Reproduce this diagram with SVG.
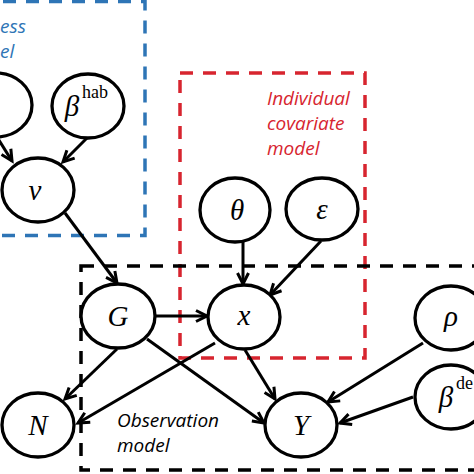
<svg xmlns="http://www.w3.org/2000/svg" width="474" height="474" viewBox="0 0 474 474">
<style>
.node ellipse{fill:#fff;stroke:#000;stroke-width:3.3}
.lbl{font-family:"Liberation Serif",serif;font-style:italic;font-size:29px;fill:#000;text-anchor:middle}
.sup{font-family:"Liberation Serif",serif;font-style:normal;font-size:18px;fill:#000}
.edge line{stroke:#000;stroke-width:3;marker-end:url(#arr)}
.box{fill:none;stroke-width:3.5;stroke-dasharray:13 10}
.cap{font-family:"Open Sans",sans-serif;font-style:italic;font-size:19px}
</style>
<defs>
<marker id="arr" markerUnits="userSpaceOnUse" viewBox="-14 -8 16 16" refX="0" refY="0" markerWidth="16" markerHeight="16" orient="auto" overflow="visible">
<path d="M-11,-5.5 L0,0 L-11,5.5" fill="none" stroke="#000" stroke-width="3" stroke-linejoin="miter"/>
</marker>
</defs>
<rect width="474" height="474" fill="#fff"/>
<g id="process-box">
<rect class="box" x="-20" y="1.5" width="165" height="234" stroke="#2E75B6"/>
<text class="cap" fill="#2E75B6" x="0" y="33">ess</text>
<text class="cap" fill="#2E75B6" x="0" y="58">el</text>
</g>
<g id="covariate-box">
<rect class="box" x="180" y="73" width="185" height="285" stroke="#D7252F"/>
<text class="cap" fill="#D7252F" x="267" y="105">Individual</text>
<text class="cap" fill="#D7252F" x="267" y="130">covariate</text>
<text class="cap" fill="#D7252F" x="267" y="155">model</text>
</g>
<g id="observation-box">
<rect class="box" x="81" y="266" width="420" height="204" stroke="#000" stroke-width="4"/>
<text class="cap" fill="#000" x="117" y="427">Observation</text>
<text class="cap" fill="#000" x="117" y="452">model</text>
</g>
<g class="edge" id="connectors">
<line x1="-3" y1="137" x2="12" y2="161"/>
<line x1="87" y1="138" x2="63" y2="162"/>
<line x1="65" y1="213" x2="117" y2="283"/>
<line x1="155" y1="316" x2="207" y2="316"/>
<line x1="243" y1="242" x2="243" y2="284"/>
<line x1="321" y1="241" x2="270" y2="295"/>
<line x1="117" y1="349" x2="65" y2="399"/>
<line x1="215" y1="343" x2="78" y2="423"/>
<line x1="147" y1="339" x2="264" y2="423"/>
<line x1="245" y1="350" x2="275" y2="399"/>
<line x1="423" y1="343" x2="328" y2="402"/>
<line x1="413" y1="397" x2="340" y2="423"/>
</g>
<g class="node" id="node-left"><ellipse cx="-4" cy="105" rx="36" ry="32"/></g>
<g class="node" id="node-beta-hab"><ellipse cx="88" cy="106" rx="36" ry="32"/><text class="lbl" x="72" y="116">β</text><text class="sup" x="82" y="98">hab</text></g>
<g class="node" id="node-nu"><ellipse cx="38" cy="190" rx="36" ry="32"/><text class="lbl" x="35" y="200">ν</text></g>
<g class="node" id="node-theta"><ellipse cx="235" cy="210" rx="35" ry="32"/><text class="lbl" x="237" y="220">θ</text></g>
<g class="node" id="node-epsilon"><ellipse cx="322" cy="209" rx="36" ry="31"/><text class="lbl" x="322" y="219">ε</text></g>
<g class="node" id="node-G"><ellipse cx="118" cy="316" rx="37" ry="32"/><text class="lbl" x="118" y="326">G</text></g>
<g class="node" id="node-x"><ellipse cx="244" cy="317" rx="36" ry="32"/><text class="lbl" x="244" y="325">x</text></g>
<g class="node" id="node-rho"><ellipse cx="451" cy="318" rx="36" ry="32"/><text class="lbl" x="451" y="326">ρ</text></g>
<g class="node" id="node-beta-de"><ellipse cx="451" cy="397" rx="36" ry="32"/><text class="lbl" x="446" y="407">β</text><text class="sup" x="456" y="389">de</text></g>
<g class="node" id="node-N"><ellipse cx="38" cy="425" rx="36" ry="32"/><text class="lbl" x="38" y="435">N</text></g>
<g class="node" id="node-Y"><ellipse cx="301" cy="425" rx="36" ry="32"/><text class="lbl" x="301" y="435">Y</text></g>
</svg>
